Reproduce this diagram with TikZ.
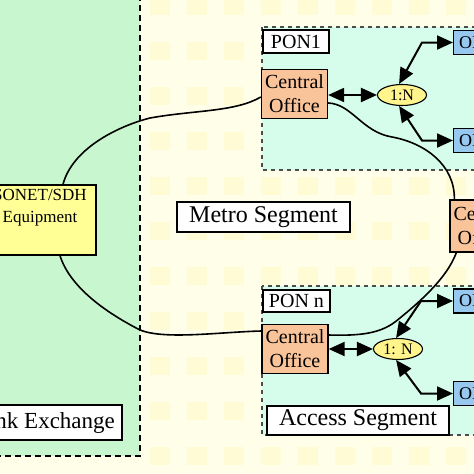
\documentclass[tikz,border=0pt]{standalone}
\usepackage{fontspec}
\setmainfont{Liberation Serif}
\usetikzlibrary{arrows.meta,shapes.geometric}
\definecolor{bgY}{RGB}{255,254,232}
\definecolor{chkY}{RGB}{255,251,212}
\definecolor{grnF}{RGB}{200,246,206}
\definecolor{cyanF}{RGB}{214,252,236}
\definecolor{orgF}{RGB}{250,196,154}
\definecolor{bluF}{RGB}{150,200,240}
\definecolor{yelF}{RGB}{255,255,150}
\definecolor{ellF}{RGB}{255,245,140}
\tikzset{
  boxline/.style={draw, line width=1.3pt},
  cobox/.style={boxline, fill=orgF, align=center, minimum width=66pt, minimum height=49pt, inner sep=0pt, font=\fontsize{20}{24}\selectfont},
  onubox/.style={boxline, fill=bluF, minimum width=50pt, minimum height=24pt, inner sep=0pt, anchor=west, font=\fontsize{18}{20}\selectfont},
  splitter/.style={ellipse, boxline, line width=1.1pt, fill=ellF, minimum width=49pt, minimum height=21pt, inner sep=0pt, font=\fontsize{16}{17}\selectfont},
  lblbox/.style={boxline, fill=white, inner sep=0pt},
  fiber/.style={line width=1.6pt},
  dblarr/.style={line width=2pt, {Triangle[length=16pt,width=14pt]}-{Triangle[length=16pt,width=14pt]}},
  greendash/.style={line width=1.4pt, dash pattern=on 6pt off 4pt},
  pondash/.style={line width=1.1pt, draw=gray!60!black, dash pattern=on 4pt off 4pt, fill=cyanF}
}
\begin{document}
\begin{tikzpicture}[x=1pt,y=-1pt]
\useasboundingbox (0,0) rectangle (474,474);
\clip (0,0) rectangle (474,474);
% background
\fill[bgY] (0,0) rectangle (474,474);
\foreach \i in {0,...,8}{\foreach \j in {0,...,10}{
  \fill[chkY] (150+37*\i,-3+45*\j) rectangle ++(20,18);}}
\fill[grnF] (0,0) rectangle (140,456);
\draw[greendash] (140,-5) -- (140,456) -- (-5,456);
% PON regions
\draw[pondash] (262,27) rectangle (490,170);
\draw[pondash] (262,286) rectangle (490,435);
% nodes
\node[boxline, fill=yelF, align=center, minimum width=112pt, minimum height=70pt, inner sep=0pt, font=\fontsize{17}{22}\selectfont] (sonet) at (40,220) {SONET/SDH\\Equipment\\\strut};
\node[lblbox, minimum width=166pt, minimum height=35pt, font=\fontsize{23}{24}\selectfont] (trunk) at (39,422.5) {Trunk Exchange};
\node[lblbox, minimum width=173pt, minimum height=30pt, font=\fontsize{24}{26}\selectfont] (metro) at (263.5,217) {Metro Segment};
\node[lblbox, minimum width=182pt, minimum height=29pt, font=\fontsize{24}{26}\selectfont] (access) at (358,420.5) {Access Segment};
\node[lblbox, minimum width=66pt, minimum height=23pt, font=\fontsize{20}{22}\selectfont] (pon1) at (296,41.5) {PON1};
\node[lblbox, minimum width=67pt, minimum height=22pt, font=\fontsize{20}{22}\selectfont] (ponn) at (296.5,301) {PON n};
\node[cobox] (co1) at (294.5,94) {Central\\Office};
\node[cobox, minimum height=52pt] (co2) at (483,226) {Central\\Office};
\node[cobox] (con) at (295,349) {Central\\Office};
\node[splitter] (ell1) at (402,95) {1:N};
\node[splitter] (elln) at (398,349) {1: N};
\node[onubox] (onu1a) at (453,42.5) {ONU};
\node[onubox] (onu1b) at (453,140.5) {ONU};
\node[onubox] (onuna) at (453,301) {ONU};
\node[onubox] (onunb) at (453,393.5) {ONU};
% fibers
\draw[fiber] ([xshift=23pt]sonet.north) .. controls (72,150) and (115,127) .. (150,118) .. controls (195,110) and (235,112) .. ([yshift=-3pt]co1.west);
\draw[fiber] ([yshift=-9pt]co1.east) .. controls (352,104) and (362,132) .. (392,137) .. controls (425,143) and (455,165) .. ([xshift=5pt]co2.north west);
\draw[fiber] ([xshift=7pt]co2.south west) .. controls (447,278) and (420,302) .. (395,322) .. controls (380,333) and (362,336) .. ([yshift=14pt]con.east);
\draw[fiber] ([xshift=20pt]sonet.south) .. controls (70,287) and (105,312) .. (140,330) .. controls (165,340) and (220,332) .. ([yshift=18pt]con.west);
% arrows
\draw[dblarr] (co1.east |- ell1.west) -- (ell1.west);
\draw[dblarr] (con.east) -- (elln.west);
\draw[dblarr] (ell1.105) -- ([xshift=-31pt]onu1a.west) -- (onu1a.west);
\draw[dblarr] (ell1.-105) -- ([xshift=-31pt]onu1b.west) -- (onu1b.west);
\draw[dblarr] (elln.100) -- ([xshift=-32pt]onuna.west) -- (onuna.west);
\draw[dblarr] (elln.-100) -- ([xshift=-32pt]onunb.west) -- (onunb.west);
\end{tikzpicture}
\end{document}
